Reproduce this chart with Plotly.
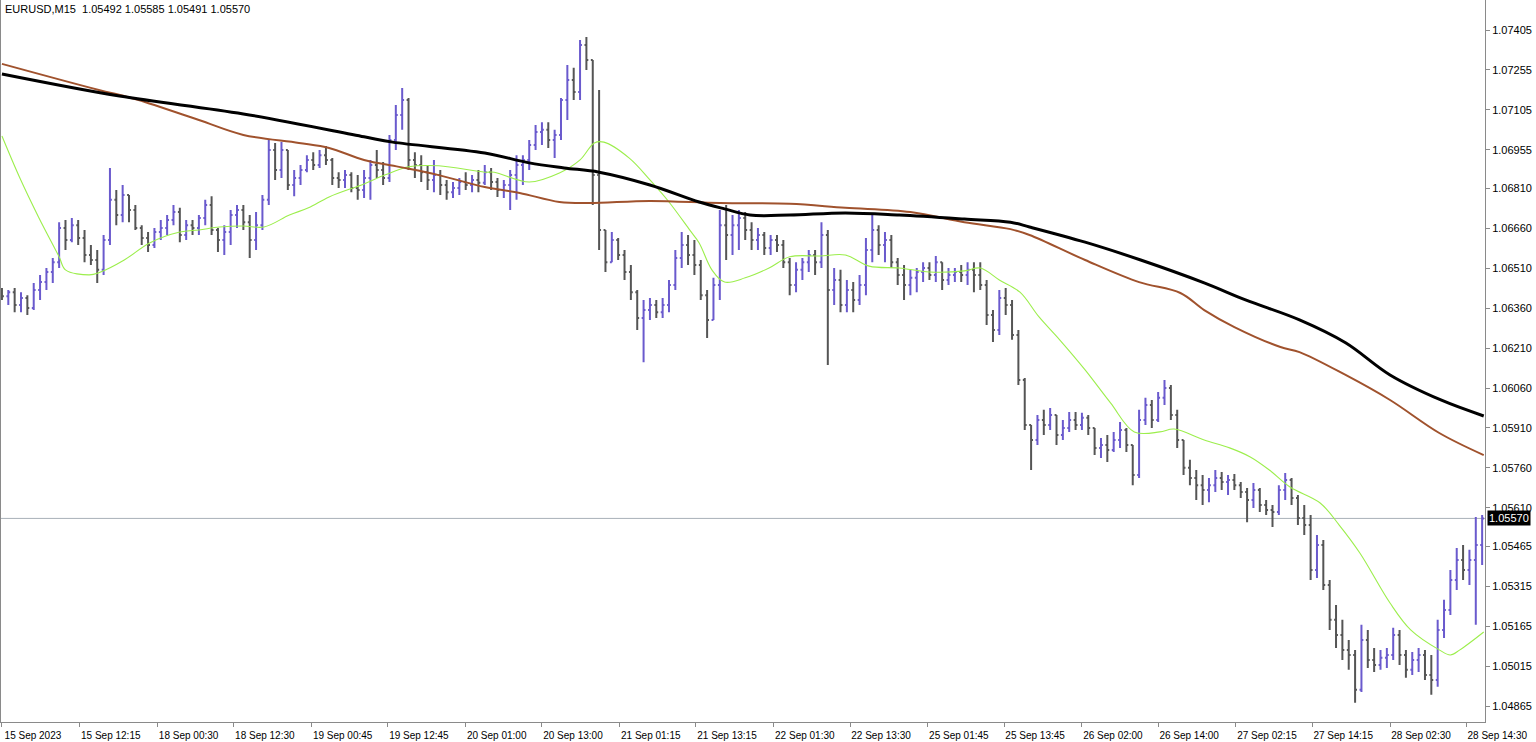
import plotly.graph_objects as go

# ---------------- DATA (EURUSD, hourly aggregation of M15 bars) -------------
opens = [
1.06420,1.06405,1.06420,1.06372,1.06398,1.06361,1.06428,1.06458,1.06496,1.06533,
1.06661,1.06616,1.06672,1.06624,1.06560,1.06541,1.06504,1.06616,1.06767,1.06710,
1.06785,1.06729,1.06661,1.06624,1.06597,1.06646,1.06661,1.06691,1.06721,1.06635,
1.06672,1.06661,1.06699,1.06748,1.06654,1.06616,1.06646,1.06710,1.06729,1.06683,
1.06616,1.06672,1.06767,1.06954,1.06879,1.06954,1.06823,1.06849,1.06879,1.06917,
1.06898,1.06935,1.06917,1.06849,1.06842,1.06860,1.06812,1.06804,1.06849,1.06898,
1.06879,1.06849,1.06992,1.07086,1.07142,1.06917,1.06898,1.06871,1.06842,1.06860,
1.06823,1.06796,1.06812,1.06834,1.06823,1.06842,1.06831,1.06871,1.06834,1.06804,
1.06823,1.06860,1.06898,1.06917,1.06973,1.07022,1.07030,1.06992,1.07011,1.07142,
1.07217,1.07172,1.07349,1.07293,1.06860,1.06654,1.06533,1.06616,1.06560,1.06496,
1.06420,1.06323,1.06353,1.06372,1.06345,1.06372,1.06447,1.06549,1.06597,1.06560,
1.06522,1.06409,1.06316,1.06447,1.06672,1.06635,1.06672,1.06699,1.06654,1.06616,
1.06635,1.06586,1.06616,1.06597,1.06533,1.06447,1.06504,1.06533,1.06560,1.06533,
1.06635,1.06428,1.06466,1.06372,1.06428,1.06391,1.06447,1.06579,1.06654,1.06597,
1.06616,1.06533,1.06485,1.06447,1.06474,1.06496,1.06511,1.06485,1.06533,1.06466,
1.06485,1.06496,1.06485,1.06504,1.06485,1.06447,1.06334,1.06278,1.06398,1.06372,
1.06259,1.06090,1.05921,1.05865,1.05940,1.05921,1.05959,1.05883,1.05910,1.05940,
1.05921,1.05948,1.05910,1.05835,1.05846,1.05827,1.05865,1.05902,1.05846,1.05733,
1.05940,1.05996,1.05940,1.06023,1.06060,1.05959,1.05865,1.05760,1.05722,1.05695,
1.05677,1.05695,1.05722,1.05707,1.05714,1.05695,1.05669,1.05639,1.05677,1.05620,
1.05602,1.05594,1.05677,1.05714,1.05647,1.05572,1.05545,1.05376,1.05470,1.05320,
1.05189,1.05132,1.05076,1.05057,1.04926,1.05113,1.05038,1.05019,1.05046,1.05057,
1.05132,1.05057,1.05001,1.05038,1.05057,1.04982,1.04963,1.05151,1.05226,1.05339,
1.05414,1.05376,1.05414,1.05470]

highs = [
1.06436,1.06428,1.06436,1.06420,1.06409,1.06455,1.06485,1.06511,1.06549,1.06683,
1.06691,1.06699,1.06691,1.06654,1.06597,1.06579,1.06635,1.06887,1.06804,1.06823,
1.06785,1.06748,1.06672,1.06646,1.06661,1.06691,1.06710,1.06748,1.06737,1.06691,
1.06691,1.06710,1.06767,1.06781,1.06661,1.06672,1.06729,1.06748,1.06748,1.06710,
1.06721,1.06785,1.06992,1.06981,1.06984,1.06954,1.06879,1.06898,1.06935,1.06946,
1.06954,1.06969,1.06924,1.06871,1.06879,1.06871,1.06860,1.06879,1.06917,1.06954,
1.06909,1.07011,1.07123,1.07187,1.07150,1.06946,1.06935,1.06898,1.06917,1.06879,
1.06842,1.06834,1.06849,1.06871,1.06860,1.06879,1.06898,1.06887,1.06849,1.06842,
1.06879,1.06935,1.06935,1.06992,1.07048,1.07059,1.07059,1.07030,1.07150,1.07274,
1.07263,1.07368,1.07379,1.07293,1.07180,1.06654,1.06646,1.06624,1.06579,1.06522,
1.06428,1.06391,1.06398,1.06391,1.06398,1.06466,1.06579,1.06646,1.06635,1.06616,
1.06541,1.06428,1.06474,1.06729,1.06748,1.06710,1.06729,1.06721,1.06683,1.06661,
1.06646,1.06635,1.06635,1.06616,1.06549,1.06533,1.06549,1.06579,1.06579,1.06683,
1.06654,1.06511,1.06504,1.06466,1.06458,1.06485,1.06624,1.06710,1.06672,1.06646,
1.06635,1.06549,1.06522,1.06504,1.06511,1.06533,1.06533,1.06556,1.06533,1.06511,
1.06511,1.06522,1.06533,1.06533,1.06533,1.06466,1.06353,1.06428,1.06436,1.06391,
1.06278,1.06098,1.05921,1.05959,1.05978,1.05985,1.05959,1.05940,1.05970,1.05970,
1.05967,1.05959,1.05910,1.05872,1.05883,1.05895,1.05932,1.05910,1.05846,1.05978,
1.06023,1.06015,1.06045,1.06090,1.06071,1.05978,1.05865,1.05790,1.05752,1.05733,
1.05722,1.05752,1.05744,1.05733,1.05737,1.05707,1.05684,1.05703,1.05684,1.05639,
1.05620,1.05695,1.05741,1.05722,1.05658,1.05620,1.05583,1.05508,1.05489,1.05339,
1.05245,1.05189,1.05113,1.05076,1.05170,1.05151,1.05083,1.05076,1.05083,1.05159,
1.05151,1.05076,1.05068,1.05083,1.05076,1.05057,1.05189,1.05264,1.05376,1.05459,
1.05470,1.05452,1.05575,1.05583]

lows = [
1.06391,1.06372,1.06345,1.06345,1.06334,1.06353,1.06391,1.06428,1.06455,1.06511,
1.06579,1.06608,1.06597,1.06533,1.06522,1.06455,1.06485,1.06597,1.06672,1.06683,
1.06683,1.06654,1.06597,1.06571,1.06586,1.06616,1.06635,1.06672,1.06608,1.06616,
1.06635,1.06635,1.06672,1.06635,1.06571,1.06560,1.06597,1.06661,1.06654,1.06549,
1.06579,1.06654,1.06748,1.06842,1.06849,1.06804,1.06781,1.06823,1.06871,1.06879,
1.06887,1.06898,1.06823,1.06812,1.06812,1.06796,1.06767,1.06774,1.06767,1.06849,
1.06823,1.06834,1.06954,1.07030,1.06879,1.06849,1.06834,1.06804,1.06796,1.06785,
1.06767,1.06774,1.06785,1.06804,1.06796,1.06796,1.06823,1.06804,1.06778,1.06774,
1.06729,1.06767,1.06823,1.06879,1.06954,1.06973,1.06962,1.06924,1.06992,1.07067,
1.07142,1.07142,1.07255,1.06748,1.06579,1.06496,1.06533,1.06541,1.06466,1.06391,
1.06278,1.06157,1.06316,1.06323,1.06323,1.06345,1.06428,1.06511,1.06522,1.06485,
1.06391,1.06248,1.06316,1.06391,1.06541,1.06560,1.06579,1.06616,1.06579,1.06579,
1.06560,1.06560,1.06571,1.06511,1.06409,1.06420,1.06466,1.06496,1.06485,1.06511,
1.06146,1.06372,1.06345,1.06345,1.06345,1.06372,1.06409,1.06533,1.06560,1.06533,
1.06511,1.06447,1.06391,1.06409,1.06420,1.06458,1.06466,1.06458,1.06428,1.06447,
1.06458,1.06458,1.06447,1.06420,1.06428,1.06297,1.06233,1.06259,1.06334,1.06241,
1.06071,1.05902,1.05752,1.05846,1.05883,1.05902,1.05846,1.05865,1.05895,1.05902,
1.05902,1.05883,1.05808,1.05797,1.05782,1.05820,1.05835,1.05820,1.05695,1.05722,
1.05921,1.05910,1.05932,1.05996,1.05940,1.05835,1.05733,1.05695,1.05639,1.05620,
1.05631,1.05669,1.05677,1.05658,1.05677,1.05647,1.05556,1.05609,1.05594,1.05583,
1.05538,1.05583,1.05639,1.05620,1.05545,1.05508,1.05339,1.05346,1.05301,1.05151,
1.05083,1.05038,1.05001,1.04877,1.04918,1.05008,1.04993,1.05001,1.05008,1.05038,
1.05019,1.04971,1.04982,1.04993,1.04963,1.04907,1.04937,1.05121,1.05207,1.05301,
1.05339,1.05320,1.05170,1.05395]

closes = [
1.06405,1.06420,1.06372,1.06398,1.06361,1.06428,1.06458,1.06496,1.06533,1.06661,
1.06616,1.06672,1.06624,1.06560,1.06541,1.06504,1.06616,1.06767,1.06710,1.06785,
1.06729,1.06661,1.06624,1.06597,1.06646,1.06661,1.06691,1.06721,1.06635,1.06672,
1.06661,1.06699,1.06748,1.06654,1.06616,1.06646,1.06710,1.06729,1.06683,1.06616,
1.06672,1.06767,1.06954,1.06879,1.06954,1.06823,1.06849,1.06879,1.06917,1.06898,
1.06935,1.06917,1.06849,1.06842,1.06860,1.06812,1.06804,1.06849,1.06898,1.06879,
1.06849,1.06992,1.07086,1.07142,1.06917,1.06898,1.06871,1.06842,1.06860,1.06823,
1.06796,1.06812,1.06834,1.06823,1.06842,1.06831,1.06871,1.06834,1.06804,1.06823,
1.06860,1.06898,1.06917,1.06973,1.07022,1.07030,1.06992,1.07011,1.07142,1.07217,
1.07172,1.07349,1.07293,1.06860,1.06654,1.06533,1.06616,1.06560,1.06496,1.06420,
1.06323,1.06353,1.06372,1.06345,1.06372,1.06447,1.06549,1.06597,1.06560,1.06522,
1.06409,1.06316,1.06447,1.06672,1.06635,1.06672,1.06699,1.06654,1.06616,1.06635,
1.06586,1.06616,1.06597,1.06533,1.06447,1.06504,1.06533,1.06560,1.06533,1.06635,
1.06428,1.06466,1.06372,1.06428,1.06391,1.06447,1.06579,1.06654,1.06597,1.06616,
1.06533,1.06485,1.06447,1.06474,1.06496,1.06511,1.06485,1.06533,1.06466,1.06485,
1.06496,1.06485,1.06504,1.06485,1.06447,1.06334,1.06278,1.06398,1.06372,1.06259,
1.06090,1.05921,1.05865,1.05940,1.05921,1.05959,1.05883,1.05910,1.05940,1.05921,
1.05948,1.05910,1.05835,1.05846,1.05827,1.05865,1.05902,1.05846,1.05733,1.05940,
1.05996,1.05940,1.06023,1.06060,1.05959,1.05865,1.05760,1.05722,1.05695,1.05677,
1.05695,1.05722,1.05707,1.05714,1.05695,1.05669,1.05639,1.05677,1.05620,1.05602,
1.05594,1.05677,1.05714,1.05647,1.05572,1.05545,1.05376,1.05470,1.05320,1.05189,
1.05132,1.05076,1.05057,1.04926,1.05113,1.05038,1.05019,1.05046,1.05057,1.05132,
1.05057,1.05001,1.05038,1.05057,1.04982,1.04963,1.05151,1.05226,1.05339,1.05414,
1.05376,1.05414,1.05470,1.05570]

n_bars = len(closes)
assert len(opens) == len(highs) == len(lows) == n_bars, (len(opens), len(highs), len(lows), n_bars)

# x position of each bar, in M15-bar units (one bar drawn per hour = 4 M15 bars)
bar_pos = [4 * k for k in range(n_bars)]

# Moving averages (bar position in M15 units, price)
ma_black_pos = [0, 74, 152, 228, 246, 304, 332, 354, 376, 408, 439, 455, 471, 496, 531, 565, 606,
                635, 647, 682, 717, 757, 783, 817, 846, 874, 906, 933]
ma_black_val = [1.07240, 1.07157, 1.07090, 1.07004, 1.06984, 1.06943, 1.06906, 1.06887, 1.06871,
                1.06823, 1.06759, 1.06733, 1.06710, 1.06710, 1.06718, 1.06710, 1.06695, 1.06683,
                1.06665, 1.06608, 1.06541, 1.06455, 1.06391, 1.06316, 1.06230, 1.06109, 1.06015,
                1.05955]

ma_brown_pos = [0, 61, 77, 86, 124, 152, 187, 206, 228, 250, 275, 304, 326, 351, 370, 408, 452, 496,
                531, 572, 606, 635, 647, 682, 716, 742, 757, 776, 805, 817, 846, 874, 905, 933]
ma_brown_val = [1.07278, 1.07180, 1.07157, 1.07142, 1.07067, 1.07011, 1.06981, 1.06962, 1.06917,
                1.06891, 1.06860, 1.06815, 1.06793, 1.06759, 1.06755, 1.06763, 1.06755, 1.06752,
                1.06737, 1.06721, 1.06683, 1.06657, 1.06635, 1.06541, 1.06458, 1.06417, 1.06353,
                1.06289, 1.06214, 1.06195, 1.06109, 1.06015, 1.05891, 1.05808]

ma_green_pos = [0, 11, 23, 36, 40, 55, 61, 77, 93, 112, 124, 137, 152, 165, 181, 193, 206, 228, 241,
                256, 275, 304, 310, 332, 351, 364, 373, 379, 395, 408, 420, 433, 439, 447, 455, 468,
                483, 496, 515, 531, 546, 565, 584, 606, 616, 628, 641, 653, 666, 682, 698, 713, 729,
                738, 757, 773, 786, 798, 811, 830, 842, 855, 874, 887, 905, 912, 918, 933]
ma_green_val = [1.07007, 1.06853, 1.06703, 1.06553, 1.06504, 1.06485, 1.06493, 1.06541, 1.06605,
                1.06646, 1.06654, 1.06665, 1.06669, 1.06665, 1.06710, 1.06737, 1.06778, 1.06827,
                1.06860, 1.06891, 1.06895, 1.06871, 1.06871, 1.06834, 1.06868, 1.06917, 1.06981,
                1.06984, 1.06924, 1.06842, 1.06759, 1.06654, 1.06605, 1.06504, 1.06458, 1.06474,
                1.06511, 1.06553, 1.06556, 1.06560, 1.06518, 1.06511, 1.06496, 1.06500, 1.06511,
                1.06466, 1.06420, 1.06327, 1.06241, 1.06128, 1.06004, 1.05895, 1.05895, 1.05906,
                1.05865, 1.05835, 1.05801, 1.05752, 1.05688, 1.05628, 1.05545, 1.05440, 1.05252,
                1.05151, 1.05076, 1.05057, 1.05076, 1.05143]

current_price = 1.05570

y_tick_vals = [1.07405, 1.07255, 1.07105, 1.06955, 1.06810, 1.06660, 1.06510, 1.06360, 1.06210,
               1.06060, 1.05910, 1.05760, 1.05610, 1.05465, 1.05315, 1.05165, 1.05015, 1.04865]
y_tick_text = ["%.5f" % v for v in y_tick_vals]

x_tick_pos = [0, 49, 98, 146, 195, 243, 292, 340, 389, 437, 486, 534, 583, 631, 680, 728, 777, 825, 874, 922]
x_tick_text = ["15 Sep 2023", "15 Sep 12:15", "18 Sep 00:30", "18 Sep 12:30", "19 Sep 00:45",
               "19 Sep 12:45", "20 Sep 01:00", "20 Sep 13:00", "21 Sep 01:15", "21 Sep 13:15",
               "22 Sep 01:30", "22 Sep 13:30", "25 Sep 01:45", "25 Sep 13:45", "26 Sep 02:00",
               "26 Sep 14:00", "27 Sep 02:15", "27 Sep 14:15", "28 Sep 02:30", "28 Sep 14:30"]

title_text = "EURUSD,M15  1.05492 1.05585 1.05491 1.05570"

# ---------------- FIGURE -------------
FONT = "Liberation Sans"
AXIS_COL = "#8a8a8a"

fig = go.Figure()

fig.add_trace(go.Ohlc(
    x=bar_pos, open=opens, high=highs, low=lows, close=closes,
    increasing=dict(line=dict(color="#6a5acd", width=2)),
    decreasing=dict(line=dict(color="#555555", width=2)),
    tickwidth=0.3, hoverinfo="skip", showlegend=False))

fig.add_trace(go.Scatter(x=ma_green_pos, y=ma_green_val, mode="lines", line_shape="spline",
                         line=dict(color="#9cee4c", width=1.1), hoverinfo="skip", showlegend=False))
fig.add_trace(go.Scatter(x=ma_brown_pos, y=ma_brown_val, mode="lines", line_shape="spline",
                         line=dict(color="#a0522d", width=2), hoverinfo="skip", showlegend=False))
fig.add_trace(go.Scatter(x=ma_black_pos, y=ma_black_val, mode="lines", line_shape="spline",
                         line=dict(color="#000000", width=3), hoverinfo="skip", showlegend=False))

fig.add_shape(type="line", xref="paper", x0=0, x1=1, yref="y", y0=current_price, y1=current_price,
              line=dict(color="#a9b0b8", width=1), layer="below")

fig.add_annotation(xref="paper", x=1, yref="y", y=current_price, xanchor="left", yanchor="middle",
                   text="%.5f" % current_price, showarrow=False, bgcolor="#000000",
                   font=dict(family=FONT, size=11, color="#ffffff"), xshift=2, borderpad=1)

fig.add_annotation(xref="paper", x=0, yref="paper", y=1, xanchor="left", yanchor="top",
                   text=title_text, showarrow=False,
                   font=dict(family=FONT, size=11, color="#000000"), xshift=2, yshift=-1)

fig.update_layout(
    width=1536, height=742,
    margin=dict(l=1, r=51, t=0, b=20),
    paper_bgcolor="white", plot_bgcolor="white",
    showlegend=False,
    font=dict(family=FONT, size=11, color="#000000"),
    xaxis=dict(range=[-0.6, 933.8], tickmode="array", tickvals=x_tick_pos, ticktext=x_tick_text,
               ticks="outside", ticklen=4, tickcolor=AXIS_COL, showline=True, linecolor=AXIS_COL,
               linewidth=1, showgrid=False, zeroline=False, ticklabelshift=31,
               tickfont=dict(family=FONT, size=10, color="#000000"),
               rangeslider=dict(visible=False)),
    yaxis=dict(side="right", range=[1.04805, 1.07518], tickmode="array", tickvals=y_tick_vals,
               ticktext=y_tick_text, ticks="outside", ticklen=4, tickcolor=AXIS_COL,
               showline=True, linecolor=AXIS_COL, linewidth=1, mirror=True, showgrid=False,
               zeroline=False, tickfont=dict(family=FONT, size=11, color="#000000")),
)

fig.write_html("out.html", config={"displayModeBar": False},
               post_script="document.body.style.margin='0';document.body.style.overflow='hidden';")
